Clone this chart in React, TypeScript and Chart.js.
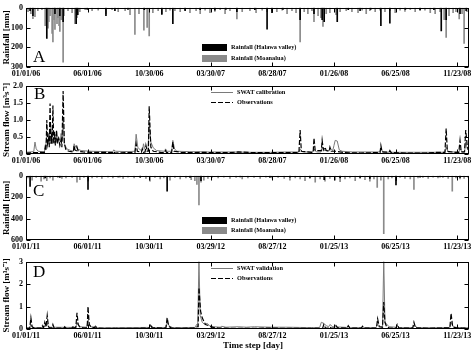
import React, { useEffect, useRef } from "react";
import { Chart, registerables } from "chart.js";
Chart.register(...registerables);

const FONT = '"Liberation Serif", "Times New Roman", serif';

const TICK_DAYS = [0, 151, 302, 453, 604, 755, 906, 1057];
const LABELS_0608 = ["01/01/06", "06/01/06", "10/30/06", "03/30/07", "08/28/07", "01/26/08", "06/25/08", "11/23/08"];
const LABELS_1113 = ["01/01/11", "06/01/11", "10/30/11", "03/29/12", "08/27/12", "01/25/13", "06/25/13", "11/23/13"];
const X_MAX = 1086;

// Panel A: daily rainfall 2006-2008 [day, mm]
const RAIN_HALAWA_A: [number, number][] = [
  [10, 15], [17, 40], [51, 155], [71, 30], [83, 40], [91, 70], [123, 80], [127, 35], [150, 8], [196, 40], [218, 15],
  [250, 8], [290, 10], [333, 33], [360, 80], [390, 15], [427, 10], [463, 12], [490, 8], [517, 20], [561, 10], [591, 108], [603, 25],
  [630, 8], [672, 60], [706, 30], [726, 60], [731, 70], [763, 70], [790, 10], [819, 15], [845, 8], [870, 90], [892, 78], [930, 8], [966, 10],
  [1000, 10], [1018, 117], [1030, 60], [1064, 30], [1079, 15],
];
const RAIN_MOANALUA_A: [number, number][] = [
  [5, 20], [12, 30], [17, 55], [22, 45], [29, 15], [39, 10], [47, 90], [49, 60], [54, 103], [56, 70],
  [59, 40], [64, 130], [66, 173], [69, 60], [71, 110], [76, 80], [78, 50], [81, 90], [83, 120], [86, 60],
  [91, 276], [93, 40], [103, 15], [113, 25], [120, 80], [125, 50], [132, 20], [145, 10], [162, 15],
  [177, 12], [196, 30], [211, 10], [226, 20], [243, 15], [255, 35], [267, 135], [277, 30], [289, 113],
  [297, 100], [302, 142], [311, 25], [324, 15], [333, 30], [343, 20], [353, 12], [365, 15], [378, 20],
  [390, 10], [402, 25], [417, 15], [427, 30], [439, 12], [451, 25], [463, 18], [476, 10], [488, 30],
  [500, 15], [517, 56], [530, 20], [549, 15], [564, 25], [579, 12], [591, 20], [603, 15], [615, 20],
  [628, 12], [640, 30], [652, 15], [662, 25], [672, 173], [682, 20], [691, 30], [701, 15], [706, 70],
  [716, 40], [723, 50], [728, 94], [736, 30], [745, 25], [760, 35], [770, 20], [785, 15], [799, 20],
  [814, 25], [824, 12], [834, 30], [843, 15], [856, 20], [868, 12], [880, 20], [892, 15], [905, 25],
  [917, 12], [929, 18], [942, 10], [954, 20], [966, 15], [978, 12], [991, 25], [1003, 30], [1015, 20],
  [1025, 60], [1030, 150], [1037, 40], [1047, 25], [1054, 20], [1062, 56], [1069, 30], [1074, 180], [1081, 20],
];

// Panel B: stream flow 2006-2008 [day, m3/s]
const OBS_B: [number, number][] = [
  [0, 0.03], [20, 0.04], [40, 0.05], [45, 0.05], [47, 0.2], [49, 0.1], [51, 1.0], [53, 0.3], [56, 0.5], [57, 0.2],
  [59, 1.48], [61, 0.3], [63, 0.6], [64, 0.3], [66, 1.42], [68, 0.3], [70, 0.65], [72, 0.25], [75, 0.7], [77, 0.3],
  [80, 0.45], [83, 0.25], [86, 0.4], [88, 0.2], [91, 1.85], [94, 0.3], [98, 0.12], [105, 0.08], [116, 0.06],
  [118, 0.25], [120, 0.12], [123, 0.1], [125, 0.2], [128, 0.08], [140, 0.06], [160, 0.05], [180, 0.05],
  [213, 0.04], [215, 0.08], [218, 0.03], [250, 0.04], [267, 0.04], [270, 0.3], [273, 0.08], [283, 0.05],
  [285, 0.15], [288, 0.05], [292, 0.06], [294, 0.25], [297, 0.08], [300, 0.08], [302, 1.4], [306, 0.2],
  [312, 0.08], [330, 0.05], [340, 0.04], [342, 0.1], [345, 0.04], [357, 0.04], [360, 0.35], [363, 0.08],
  [380, 0.05], [400, 0.04], [430, 0.05], [460, 0.04], [500, 0.04], [520, 0.06], [560, 0.04], [600, 0.04],
  [640, 0.04], [669, 0.04], [672, 0.7], [675, 0.08], [700, 0.05], [704, 0.05], [706, 0.47], [709, 0.1],
  [722, 0.1], [724, 0.1], [726, 0.4], [729, 0.12], [733, 0.2], [736, 0.1], [743, 0.08], [745, 0.2],
  [748, 0.08], [760, 0.08], [780, 0.04], [820, 0.03], [860, 0.04], [868, 0.04], [870, 0.25], [873, 0.06],
  [890, 0.05], [892, 0.1], [895, 0.04], [930, 0.03], [980, 0.03], [1010, 0.05], [1027, 0.05], [1030, 0.75],
  [1033, 0.08], [1050, 0.05], [1061, 0.05], [1064, 0.4], [1067, 0.06], [1075, 0.06], [1078, 0.7], [1082, 0.2],
  [1086, 0.08],
];
const SWAT_B: [number, number][] = [
  [0, 0.05], [10, 0.06], [19, 0.07], [22, 0.35], [25, 0.15], [30, 0.08], [45, 0.06], [48, 0.2], [51, 0.5],
  [55, 0.6], [58, 0.4], [60, 0.9], [63, 0.5], [66, 0.7], [70, 0.5], [73, 0.35], [75, 0.55], [78, 0.4],
  [80, 0.5], [84, 0.35], [86, 0.6], [89, 0.4], [91, 1.0], [94, 0.3], [100, 0.15], [110, 0.1], [116, 0.08],
  [118, 0.3], [121, 0.2], [123, 0.25], [126, 0.15], [135, 0.1], [160, 0.08], [200, 0.07], [213, 0.07],
  [215, 0.12], [220, 0.08], [250, 0.07], [267, 0.08], [270, 0.58], [274, 0.2], [280, 0.12], [286, 0.1],
  [288, 0.3], [291, 0.15], [299, 0.1], [302, 0.9], [306, 0.35], [312, 0.18], [320, 0.1], [340, 0.08],
  [342, 0.15], [346, 0.08], [357, 0.08], [360, 0.4], [364, 0.15], [370, 0.08], [400, 0.07], [450, 0.06],
  [500, 0.06], [550, 0.05], [600, 0.05], [640, 0.06], [669, 0.06], [672, 0.15], [678, 0.06], [703, 0.06],
  [706, 0.15], [712, 0.06], [723, 0.06], [726, 0.2], [732, 0.1], [745, 0.1], [748, 0.15], [752, 0.1],
  [755, 0.25], [758, 0.4], [763, 0.38], [768, 0.12], [775, 0.08], [800, 0.06], [867, 0.06], [870, 0.15],
  [876, 0.05], [889, 0.05], [892, 0.08], [897, 0.05], [950, 0.05], [1000, 0.05], [1027, 0.05], [1030, 0.2],
  [1035, 0.06], [1061, 0.06], [1064, 0.15], [1070, 0.05], [1075, 0.06], [1078, 0.35], [1082, 0.15], [1086, 0.08],
];

// Panel C: daily rainfall 2011-2013 [day, mm]
const RAIN_HALAWA_C: [number, number][] = [
  [10, 100], [47, 20], [83, 15], [152, 128], [230, 10], [280, 12], [346, 143], [402, 15], [429, 45],
  [525, 10], [598, 15], [647, 12], [696, 15], [731, 35], [770, 20], [819, 15], [843, 25], [907, 85],
  [966, 12], [1015, 10], [1064, 15],
];
const RAIN_MOANALUA_C: [number, number][] = [
  [5, 20], [15, 40], [25, 15], [37, 50], [44, 30], [51, 45], [59, 20], [66, 40], [78, 15], [88, 25],
  [98, 20], [113, 15], [125, 60], [132, 35], [142, 15], [152, 50], [162, 20], [174, 15], [186, 25],
  [201, 12], [213, 20], [226, 15], [238, 25], [250, 12], [265, 20], [280, 15], [294, 25], [304, 50],
  [316, 15], [329, 30], [338, 20], [353, 40], [365, 15], [378, 30], [392, 20], [405, 35], [414, 45],
  [419, 80], [424, 272], [429, 60], [436, 40], [446, 25], [456, 15], [471, 20], [485, 12], [500, 25],
  [515, 15], [530, 30], [544, 20], [559, 15], [574, 25], [588, 12], [603, 20], [618, 15], [633, 25],
  [647, 40], [660, 20], [672, 30], [684, 45], [696, 25], [709, 60], [721, 30], [733, 50], [745, 25],
  [758, 40], [770, 55], [782, 30], [794, 20], [807, 45], [819, 25], [831, 35], [843, 50], [853, 30],
  [861, 108], [870, 40], [877, 540], [888, 30], [897, 20], [907, 45], [917, 15], [929, 25], [942, 30],
  [951, 128], [961, 20], [973, 15], [986, 25], [998, 12], [1010, 20], [1022, 15], [1035, 25], [1045, 143],
  [1054, 20], [1064, 30], [1074, 25], [1084, 15],
];

// Panel D: stream flow 2011-2013 [day, m3/s]
const OBS_D: [number, number][] = [
  [0, 0.03], [9, 0.04], [12, 0.5], [15, 0.1], [20, 0.04], [37, 0.04], [40, 0.15], [43, 0.05], [46, 0.3],
  [49, 0.1], [52, 0.6], [55, 0.1], [58, 0.05], [64, 0.05], [66, 0.2], [69, 0.05], [80, 0.04], [93, 0.04],
  [95, 0.1], [98, 0.03], [113, 0.04], [115, 0.15], [118, 0.05], [122, 0.05], [125, 0.72], [128, 0.2],
  [132, 0.1], [140, 0.05], [150, 0.05], [152, 1.0], [155, 0.2], [160, 0.08], [168, 0.06], [170, 0.1],
  [175, 0.04], [200, 0.03], [260, 0.03], [302, 0.04], [305, 0.2], [309, 0.05], [340, 0.04], [343, 0.05],
  [346, 0.5], [350, 0.12], [356, 0.05], [380, 0.03], [410, 0.04], [420, 0.1], [422, 0.1], [424, 1.85],
  [428, 0.8], [432, 0.5], [436, 0.35], [440, 0.2], [448, 0.15], [455, 0.08], [470, 0.05], [500, 0.03],
  [560, 0.03], [600, 0.04], [640, 0.03], [700, 0.03], [727, 0.03], [730, 0.2], [734, 0.05], [742, 0.04],
  [745, 0.1], [748, 0.04], [757, 0.04], [760, 0.15], [764, 0.05], [787, 0.04], [790, 0.15], [794, 0.04],
  [822, 0.04], [825, 0.12], [829, 0.04], [859, 0.04], [862, 0.45], [866, 0.1], [874, 0.08], [877, 1.2],
  [880, 0.3], [884, 0.1], [890, 0.05], [907, 0.04], [910, 0.2], [914, 0.04], [948, 0.04], [951, 0.3],
  [955, 0.05], [990, 0.03], [1030, 0.05], [1039, 0.05], [1042, 0.7], [1046, 0.1], [1055, 0.05], [1070, 0.04],
  [1086, 0.03],
];
const SWAT_D: [number, number][] = [
  [0, 0.05], [9, 0.06], [12, 0.2], [16, 0.06], [43, 0.06], [46, 0.15], [49, 0.1], [52, 0.25], [56, 0.08],
  [122, 0.07], [125, 0.3], [130, 0.1], [149, 0.08], [152, 0.4], [158, 0.1], [167, 0.08], [170, 0.15],
  [176, 0.05], [220, 0.06], [302, 0.07], [305, 0.2], [312, 0.06], [343, 0.07], [346, 0.3], [352, 0.12],
  [360, 0.06], [415, 0.07], [418, 0.2], [421, 0.15], [424, 3.1], [427, 0.6], [432, 0.3], [438, 0.2],
  [444, 0.25], [450, 0.15], [460, 0.1], [476, 0.08], [480, 0.12], [490, 0.08], [520, 0.1], [540, 0.08],
  [560, 0.1], [600, 0.08], [640, 0.08], [700, 0.06], [720, 0.07], [724, 0.3], [730, 0.25], [736, 0.15],
  [742, 0.1], [745, 0.2], [752, 0.1], [787, 0.07], [790, 0.12], [795, 0.06], [822, 0.06], [825, 0.1],
  [830, 0.06], [858, 0.06], [862, 0.2], [870, 0.1], [874, 0.1], [877, 3.1], [880, 0.3], [890, 0.1],
  [906, 0.08], [910, 0.15], [915, 0.06], [948, 0.06], [951, 0.15], [960, 0.06], [1000, 0.06], [1039, 0.06],
  [1042, 0.3], [1048, 0.08], [1070, 0.06], [1086, 0.05],
];

const GRAY = "#8a8a8a";
const SWAT_GRAY = "#7a7a7a";

const panelPlugin = {
  id: "panel",
  afterDraw(chart: any, _args: any, opts: any) {
    const { ctx, chartArea: a, scales } = chart;
    ctx.save();
    ctx.strokeStyle = "#000";
    ctx.lineWidth = 1;
    const L = Math.round(a.left) + 0.5, R = Math.round(a.right) - 0.5;
    const T = Math.round(a.top) + 0.5, B = Math.round(a.bottom) - 0.5;
    ctx.strokeRect(L, T, R - L, B - T);
    ctx.beginPath();
    const tl = 4;
    scales.x.ticks.forEach((t: any) => {
      const p = Math.round(scales.x.getPixelForValue(t.value)) + 0.5;
      ctx.moveTo(p, B); ctx.lineTo(p, B - tl);
      ctx.moveTo(p, T); ctx.lineTo(p, T + tl);
    });
    scales.y.ticks.forEach((t: any) => {
      const p = Math.round(scales.y.getPixelForValue(t.value)) + 0.5;
      ctx.moveTo(L, p); ctx.lineTo(L + tl, p);
      ctx.moveTo(R, p); ctx.lineTo(R - tl, p);
    });
    ctx.stroke();

    // panel letter
    ctx.fillStyle = "#000";
    ctx.font = `17px ${FONT}`;
    ctx.textBaseline = "alphabetic";
    ctx.textAlign = "left";
    ctx.fillText(opts.letter, opts.lx, opts.ly);

    // y title
    ctx.save();
    ctx.translate(7, (a.top + a.bottom) / 2);
    ctx.rotate(-Math.PI / 2);
    ctx.font = `bold 9px ${FONT}`;
    ctx.textAlign = "center";
    ctx.textBaseline = "middle";
    ctx.fillText(opts.ytitle, 0, 0);
    ctx.restore();

    // x title
    if (opts.xtitle) {
      ctx.font = `bold 9px ${FONT}`;
      ctx.textAlign = "center";
      ctx.textBaseline = "middle";
      ctx.fillText(opts.xtitle, opts.xtx, opts.xty);
    }

    // legend
    const lg = opts.legend;
    ctx.font = `bold 6.3px ${FONT}`;
    ctx.textAlign = "left";
    ctx.textBaseline = "middle";
    chart.data.datasets.forEach((ds: any, i: number) => {
      const cy = lg.y + i * lg.dy;
      if (lg.kind === "bars") {
        ctx.fillStyle = ds.backgroundColor;
        ctx.fillRect(lg.x, cy - 3.5, 25, 7);
      } else {
        ctx.beginPath();
        ctx.strokeStyle = ds.borderColor;
        ctx.setLineDash(ds.borderDash || []);
        ctx.moveTo(lg.x, Math.round(cy) + 0.5);
        ctx.lineTo(lg.x + 22, Math.round(cy) + 0.5);
        ctx.stroke();
        ctx.setLineDash([]);
      }
      ctx.fillStyle = "#000";
      ctx.fillText(ds.label, lg.tx, cy);
    });
    ctx.restore();
  },
};

function baseOptions(p: any) {
  return {
    animation: false,
    responsive: false,
    devicePixelRatio: 1,
    layout: { padding: { top: p.padTop, right: 5, left: 0, bottom: 0 } },
    plugins: {
      legend: { display: false },
      tooltip: { enabled: false },
      panel: p.panel,
    },
    scales: {
      x: {
        type: "linear",
        min: 0,
        max: X_MAX,
        offset: false,
        grid: { display: false, drawTicks: false },
        border: { display: false },
        afterBuildTicks: (s: any) => { s.ticks = TICK_DAYS.map((v) => ({ value: v })); },
        afterFit: (s: any) => { s.height = p.xAxisH; },
        ticks: {
          autoSkip: false,
          maxRotation: 0,
          padding: 2,
          color: "#000",
          font: { family: FONT, size: 8, weight: "bold" },
          callback: (_v: any, i: number) => p.labels[i],
        },
      },
      y: {
        type: "linear",
        min: p.ymin,
        max: p.ymax,
        reverse: !!p.reverse,
        grid: { display: false, drawTicks: false },
        border: { display: false },
        afterFit: (s: any) => { s.width = 26; },
        ticks: {
          stepSize: p.step,
          padding: 3,
          color: "#000",
          font: { family: FONT, size: 8, weight: "bold" },
        },
      },
    },
  };
}

function rainConfig(p: any, halawa: [number, number][], moanalua: [number, number][]) {
  return {
    type: "bar",
    data: {
      datasets: [
        { label: "Rainfall (Halawa valley)", data: halawa.map(([x, y]) => ({ x, y })), backgroundColor: "#000", barThickness: 1, grouped: false },
        { label: "Rainfall (Moanalua)", data: moanalua.map(([x, y]) => ({ x, y })), backgroundColor: GRAY, barThickness: 1, grouped: false },
      ],
    },
    options: baseOptions(p),
    plugins: [panelPlugin],
  };
}

function flowConfig(p: any, swatLabel: string, swat: [number, number][], obs: [number, number][]) {
  return {
    type: "line",
    data: {
      datasets: [
        { label: swatLabel, data: swat.map(([x, y]) => ({ x, y })), borderColor: SWAT_GRAY, borderWidth: 1, pointRadius: 0, tension: 0, order: 1 },
        { label: "Observations", data: obs.map(([x, y]) => ({ x, y })), borderColor: "#000", borderWidth: 1.2, borderDash: [5, 2], pointRadius: 0, tension: 0, order: 0 },
      ],
    },
    options: baseOptions(p),
    plugins: [panelPlugin],
  };
}

const PANELS = [
  {
    top: 0, h: 80,
    make: () => rainConfig({
      padTop: 3, xAxisH: 13, labels: LABELS_0608, ymin: 0, ymax: 300, step: 100, reverse: true,
      panel: { letter: "A", lx: 33, ly: 62, ytitle: "Rainfall [mm]", legend: { kind: "bars", x: 202, tx: 231, y: 47.5, dy: 11 } },
    }, RAIN_HALAWA_A, RAIN_MOANALUA_A),
  },
  {
    top: 78, h: 90,
    make: () => flowConfig({
      padTop: 3, xAxisH: 14, labels: LABELS_0608, ymin: 0, ymax: 2, step: 0.5,
      panel: { letter: "B", lx: 34, ly: 99 - 78, ytitle: "Stream flow [m³s⁻¹]", legend: { kind: "lines", x: 211, tx: 237, y: 92 - 78, dy: 10 } },
    }, "SWAT calibration", SWAT_B, OBS_B),
  },
  {
    top: 168, h: 86,
    make: () => rainConfig({
      padTop: 2, xAxisH: 14, labels: LABELS_1113, ymin: 0, ymax: 600, step: 200, reverse: true,
      panel: { letter: "C", lx: 33, ly: 196 - 168, ytitle: "Rainfall [mm]", legend: { kind: "bars", x: 202, tx: 231, y: 220.5 - 168, dy: 10 } },
    }, RAIN_HALAWA_C, RAIN_MOANALUA_C),
  },
  {
    top: 254, h: 97,
    make: () => flowConfig({
      padTop: 4, xAxisH: 22, labels: LABELS_1113, ymin: 0, ymax: 3, step: 1,
      panel: { letter: "D", lx: 33, ly: 277 - 254, ytitle: "Stream flow [m³s⁻¹]", xtitle: "Time step [day]", xtx: 253, xty: 346 - 254, legend: { kind: "lines", x: 211, tx: 237, y: 268 - 254, dy: 10 } },
    }, "SWAT validation", SWAT_D, OBS_D),
  },
];

function Panel({ cfg }: { cfg: any }) {
  const ref = useRef<HTMLCanvasElement>(null);
  useEffect(() => {
    const chart = new Chart(ref.current as HTMLCanvasElement, cfg.make() as any);
    return () => chart.destroy();
  }, []);
  return (
    <canvas
      ref={ref}
      width={474}
      height={cfg.h}
      style={{ position: "absolute", left: 0, top: cfg.top, width: 474, height: cfg.h }}
    />
  );
}

export default function App() {
  return (
    <div style={{ position: "fixed", left: 0, top: 0, width: 474, height: 351, background: "#fff" }}>
      {PANELS.map((p, i) => (
        <Panel key={i} cfg={p} />
      ))}
    </div>
  );
}
